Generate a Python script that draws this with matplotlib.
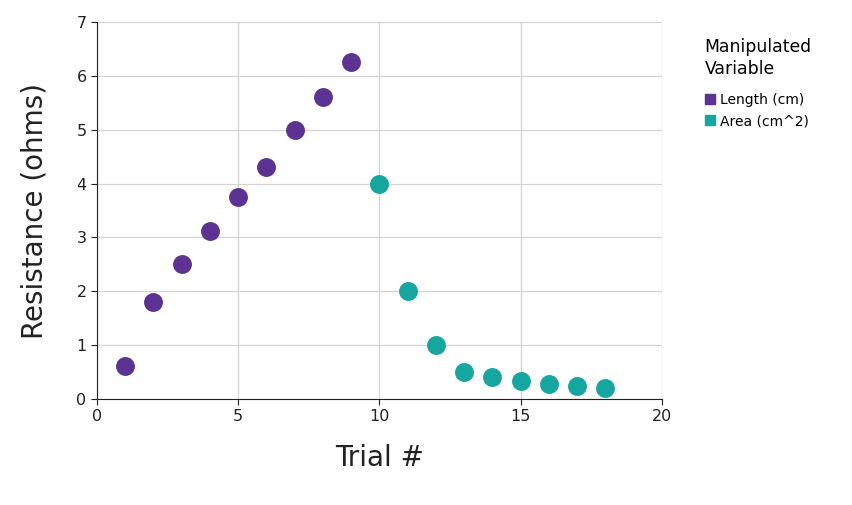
import matplotlib
matplotlib.use("Agg")
import matplotlib.pyplot as plt
from matplotlib.lines import Line2D

plt.rcParams['font.family'] = ['DejaVu Sans']

length_trials = [1, 2, 3, 4, 5, 6, 7, 8, 9]
length_resistance = [0.62, 1.8, 2.5, 3.12, 3.75, 4.3, 5.0, 5.6, 6.25]
area_trials = [10, 11, 12, 13, 14, 15, 16, 17, 18]
area_resistance = [4.0, 2.0, 1.0, 0.5, 0.4, 0.33, 0.28, 0.25, 0.2]

purple = '#5c3292'
teal = '#17a59f'

fig = plt.figure(figsize=(8.53, 5.05), dpi=100)
ax = fig.add_axes([0.1137, 0.2099, 0.6623, 0.7465])

ax.scatter(length_trials, length_resistance, s=185, color=purple, zorder=3, linewidths=0)
ax.scatter(area_trials, area_resistance, s=185, color=teal, zorder=3, linewidths=0)

ax.set_xlim(0, 20)
ax.set_ylim(0, 7)
ax.set_xticks([0, 5, 10, 15, 20])
ax.set_yticks(range(0, 8))
ax.grid(True, color='#d3d3d3', linewidth=0.9, zorder=0)
for s in ['top', 'right']:
    ax.spines[s].set_visible(False)
for s in ['left', 'bottom']:
    ax.spines[s].set_color('#222222')
ax.tick_params(labelsize=11.5, colors='#222222', length=4)
ax.set_xlabel('Trial #', fontsize=20, color='#222222', labelpad=14)
ax.set_ylabel('Resistance (ohms)', fontsize=20, color='#222222', labelpad=20)

handles = [Line2D([], [], marker='s', linestyle='', color=purple, markersize=7.5),
           Line2D([], [], marker='s', linestyle='', color=teal, markersize=7.5)]
leg = fig.legend(handles, ['Length (cm)', 'Area (cm^2)'], title='Manipulated\nVariable',
                 loc='upper left', bbox_to_anchor=(0.818, 0.939), frameon=False,
                 fontsize=10, title_fontsize=12.4, handletextpad=0.3,
                 handlelength=0.8, labelspacing=0.5, borderpad=0)
leg.get_title().set_linespacing(1.3)
leg._legend_box.align = 'left'
leg._legend_box.sep = 11

fig.savefig('out.png', dpi=100)
